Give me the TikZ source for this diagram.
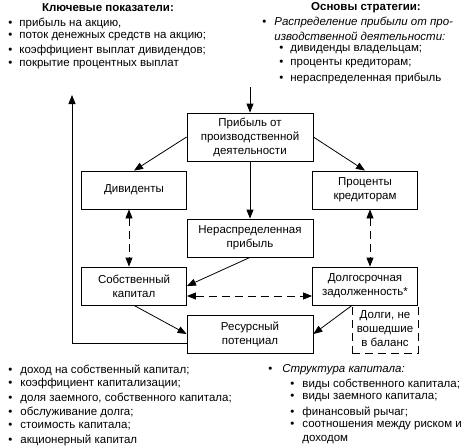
\documentclass[tikz,border=0pt]{standalone}
\usepackage{fontspec}
\setmainfont{Liberation Sans}
\usetikzlibrary{positioning,arrows.meta}

\begin{document}
\begin{tikzpicture}
    [x=1pt,y=-1pt,>={Triangle[length=9pt,width=7pt]},line width=0.8pt,
     every node/.style={font=\fontsize{11.5}{14}\selectfont, inner sep=0pt},
     box/.style={draw, align=center, minimum height=38pt},
     wide/.style={box, minimum width=126pt},
     narrow/.style={box, minimum width=105pt},
     dashline/.style={dash pattern=on 8pt off 5pt},
     item/.style={anchor=west}]
  \useasboundingbox (0,0) rectangle (464,447);

  \node[wide, minimum height=48pt] (prib) at (250,137) {Прибыль от\\производственной\\деятельности};
  \node[narrow] (div) at (134,190) {Дивиденты};
  \node[narrow] (proc) at (365,190) {Проценты\\кредиторам};
  \node[wide] (neras) at (250,238) {Нераспределенная\\прибыль};
  \node[narrow] (sobst) at (134,286) {Собственный\\капитал};
  \node[narrow] (dolg) at (365,286) {Долгосрочная\\задолженность*};
  \node[wide] (resurs) at (250,334) {Ресурсный\\потенциал};
  \node[draw, dashline, align=center, minimum width=66pt, minimum height=48pt] (vne) at (385,329) {Долги, не\\вошедшие\\в баланс};

  \coordinate (vhod) at (250,87);
  \coordinate (verh) at (72,95);

  \draw[->] (vhod) -- (prib);
  \foreach \from/\to in {prib.west/div.north, prib.east/proc.north, prib/neras, neras.south/sobst.east, sobst.south/resurs.west}
    \draw[->] (\from) -- (\to);
  \draw[->] ([xshift=-13pt]dolg.south) -- (resurs.east);
  \draw[->] ([yshift=-9pt]resurs.west) -| (verh);

  \foreach \from/\to/\dx in {div.south/sobst.north/-5, proc.south/dolg.north/5}
    \draw[<->, dashline] ([xshift=\dx pt]\from) -- ([xshift=\dx pt]\to);
  \draw[<->, dashline] ([yshift=-10pt]sobst.east) -- ([yshift=-10pt]dolg.west);

  % key indicators
  \node (klyuch) at (108,8) {\bfseries Ключевые показатели:};
  \foreach \t [count=\i] in {{прибыль на акцию,}, поток денежных средств на акцию;, коэффициент выплат дивидендов;, покрытие процентных выплат}
    \node[item] (kp\i) at (8,9+14*\i) {\makebox[11pt][l]{•}\t};

  % strategy
  \node (osnovy) at (366,8) {\bfseries Основы стратегии:};
  \node[item] (raspr) at (262,22) {\makebox[12pt][l]{•}\itshape Распределение прибыли от про-};
  \node[item] (raspr2) at (274,36) {\itshape изводственной деятельности:};
  \foreach \t [count=\i] in {дивиденды владельцам;, проценты кредиторам;, нераспределенная прибыль}
    \node[item] (os\i) at (279,36+14*\i) {\makebox[11pt][l]{•}\t};

  % bottom left
  \foreach \t [count=\i] in {доход на собственный капитал;, коэффициент капитализации;, {доля заемного, собственного капитала;}, обслуживание долга;, стоимость капитала;, акционерный капитал}
    \node[item] (pk\i) at (8,356+14*\i) {\makebox[12pt][l]{•}\t};

  % capital structure
  \node[item] (struct) at (268,370) {\makebox[14pt][l]{•}\itshape Структура капитала:};
  \foreach \t [count=\i] in {виды собственного капитала;, виды заемного капитала;, финансовый рычаг;, соотношения между риском и}
    \node[item] (sk\i) at (290,370+14*\i) {\makebox[12pt][l]{•}\t};
  \node[item] (dohod) at (302,440) {доходом};
\end{tikzpicture}
\end{document}
